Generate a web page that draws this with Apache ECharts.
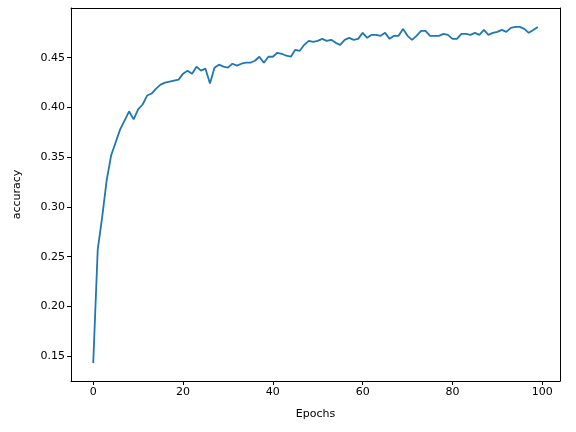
<!DOCTYPE html>
<html>
<head>
<meta charset="utf-8">
<script src="https://cdn.jsdelivr.net/npm/echarts@6/dist/echarts.min.js"></script>
<style>html,body{margin:0;padding:0;background:#fff}#c{width:576px;height:432px}</style>
</head>
<body>
<div id="c"></div>
<script>
const accuracy = [0.143,0.257,0.290,0.327,0.352,0.365,0.378,0.387,0.396,0.388,
  0.398,0.403,0.412,0.414,0.419,0.423,0.425,0.426,0.427,0.428,
  0.434,0.437,0.434,0.441,0.437,0.439,0.424,0.440,0.443,0.441,
  0.440,0.444,0.442,0.444,0.445,0.445,0.447,0.451,0.445,0.451,
  0.451,0.455,0.454,0.452,0.451,0.458,0.457,0.463,0.467,0.466,
  0.467,0.469,0.467,0.468,0.465,0.463,0.468,0.470,0.468,0.469,
  0.475,0.470,0.473,0.473,0.472,0.475,0.469,0.472,0.472,0.479,
  0.472,0.468,0.472,0.477,0.477,0.472,0.472,0.472,0.474,0.473,
  0.469,0.469,0.474,0.474,0.473,0.475,0.473,0.478,0.473,0.475,
  0.476,0.478,0.476,0.480,0.481,0.481,0.479,0.475,0.478,0.481];
const xTicks = [0, 20, 40, 60, 80, 100];
const yTicks = [0.15, 0.20, 0.25, 0.30, 0.35, 0.40, 0.45];

const chart = echarts.init(document.getElementById('c'));
const font = { color: '#000', fontSize: 11, fontFamily: 'DejaVu Sans' };
const frame = { show: true, onZero: false, lineStyle: { color: '#000' } };
chart.setOption({
  animation: false,
  grid: { left: 71, right: 16, top: 8, bottom: 51 },
  xAxis: [{
    type: 'value', min: -4.95, max: 103.95,
    name: 'Epochs', nameLocation: 'middle', nameGap: 28,
    nameTextStyle: font,
    axisLine: frame,
    axisTick: { show: true, length: 4, customValues: xTicks, lineStyle: { color: '#000' } },
    axisLabel: Object.assign({ customValues: xTicks, margin: 6 }, font),
    splitLine: { show: false }
  }, {
    type: 'value', position: 'top', min: -4.95, max: 103.95,
    axisLine: frame, axisTick: { show: false },
    axisLabel: { show: false }, splitLine: { show: false }
  }],
  yAxis: [{
    type: 'value', min: 0.125, max: 0.5,
    name: 'accuracy', nameLocation: 'middle', nameGap: 48,
    nameTextStyle: font,
    axisLine: frame,
    axisTick: { show: true, length: 4, customValues: yTicks, lineStyle: { color: '#000' } },
    axisLabel: Object.assign({ customValues: yTicks, margin: 6,
      formatter: v => v.toFixed(2) }, font),
    splitLine: { show: false }
  }, {
    type: 'value', position: 'right', min: 0.125, max: 0.5,
    axisLine: frame, axisTick: { show: false },
    axisLabel: { show: false }, splitLine: { show: false }
  }],
  series: [{
    type: 'line',
    data: accuracy.map((v, i) => [i, v]),
    showSymbol: false,
    lineStyle: { color: '#1f77b4', width: 1.8 }
  }]
});
</script>
</body>
</html>
